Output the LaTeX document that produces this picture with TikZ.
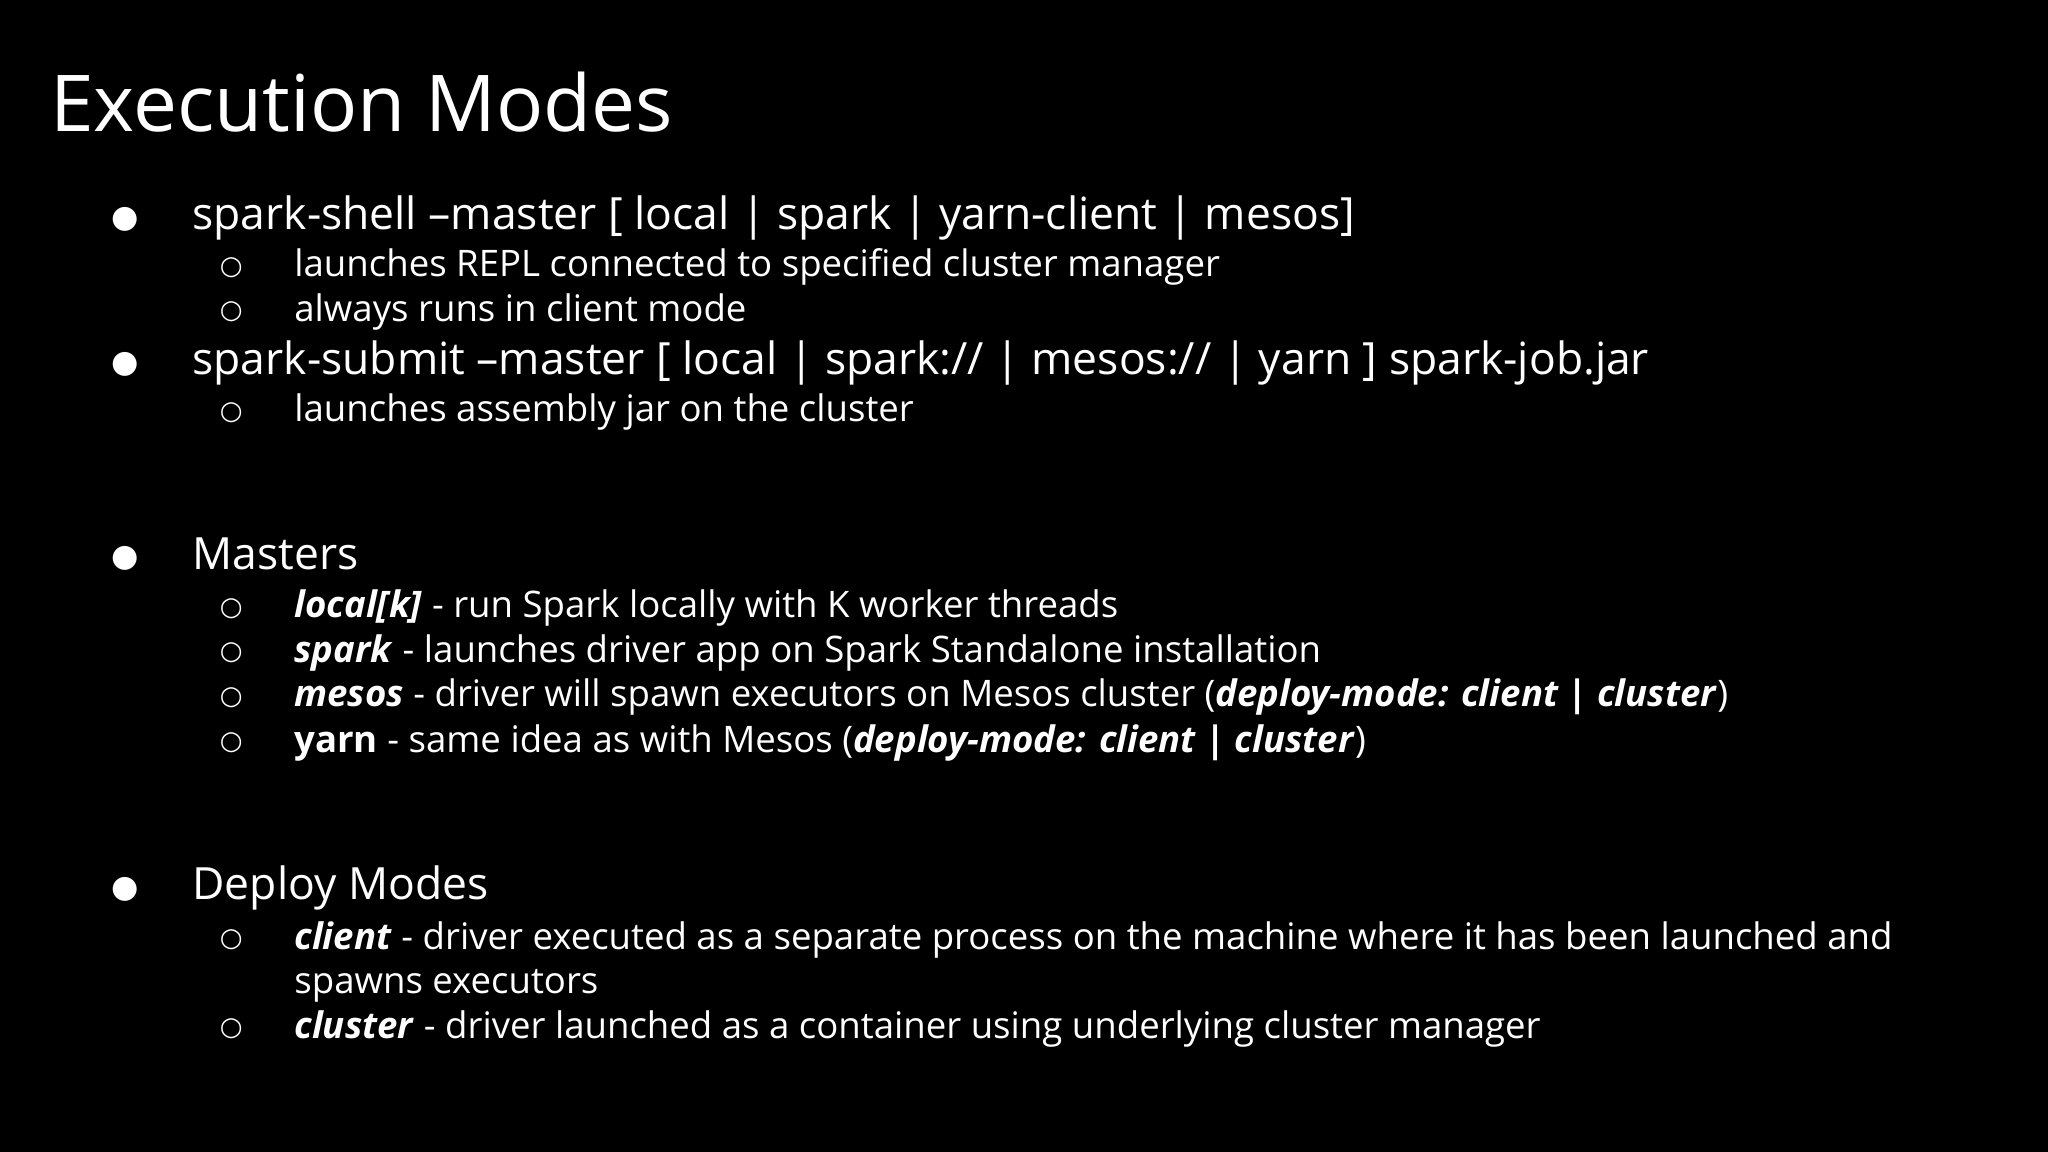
\documentclass[tikz,border=0pt]{standalone}
\usepackage{fontspec}
\setmainfont{Open Sans}
\newfontfamily\symf{DejaVu Sans}
\begin{document}
\begin{tikzpicture}[x=0.5pt,y=-0.5pt,
  every node/.style={text=white,inner sep=0pt,anchor=base west},
  tl/.style={font=\fontsize{30}{36}\selectfont},
  la/.style={font=\fontsize{17}{20}\selectfont},
  lb/.style={font=\fontsize{14}{17}\selectfont},
  ba/.style={font=\fontsize{12}{14}\symf,anchor=base},
  bb/.style={font=\fontsize{10}{12}\symf,anchor=base}]
\fill[black] (0,0) rectangle (1568,882);
\node[tl] (t) at (38,101) {Execution Modes};
% group 1
\node[ba] (b1) at (96,174) {●};
\node[la] (l1) at (147,176) {spark-shell --master [ local | spark | yarn-client | mesos]};
\node[bb] (c1) at (177,210) {○};
\node[lb] (s1) at (225,212) {launches REPL connected to specified cluster manager};
\node[bb] (c2) at (177,244) {○};
\node[lb] (s2) at (225,246) {always runs in client mode};
\node[ba] (b2) at (96,285) {●};
\node[la] (l2) at (147,287) {spark-submit --master [ local | spark:// | mesos:// | yarn ] spark-job.jar};
\node[bb] (c3) at (177,321) {○};
\node[lb] (s3) at (225,323) {launches assembly jar on the cluster};
% masters
\node[ba] (b3) at (96,434) {●};
\node[la] (l3) at (147,436) {Masters};
\node[bb] (c4) at (177,471) {○};
\node[lb] (s4) at (225,473) {\textbf{\textit{local[k]}} - run Spark locally with K worker threads};
\node[bb] (c5) at (177,505) {○};
\node[lb] (s5) at (225,507) {\textbf{\textit{spark}} - launches driver app on Spark Standalone installation};
\node[bb] (c6) at (177,539) {○};
\node[lb] (s6) at (225,541) {\textbf{\textit{mesos}} - driver will spawn executors on Mesos cluster (\textbf{\textit{deploy-mode: client | cluster}})};
\node[bb] (c7) at (177,574) {○};
\node[lb] (s7) at (225,576) {\textbf{yarn} - same idea as with Mesos (\textbf{\textit{deploy-mode: client | cluster}})};
% deploy
\node[ba] (b4) at (96,687) {●};
\node[la] (l4) at (147,689) {Deploy Modes};
\node[bb] (c8) at (177,725) {○};
\node[lb] (s8) at (225,727) {\textbf{\textit{client}} - driver executed as a separate process on the machine where it has been launched and};
\node[lb] (s8b) at (225,761) {spawns executors};
\node[bb] (c9) at (177,793) {○};
\node[lb] (s9) at (225,795) {\textbf{\textit{cluster}} - driver launched as a container using underlying cluster manager};
\end{tikzpicture}
\end{document}
